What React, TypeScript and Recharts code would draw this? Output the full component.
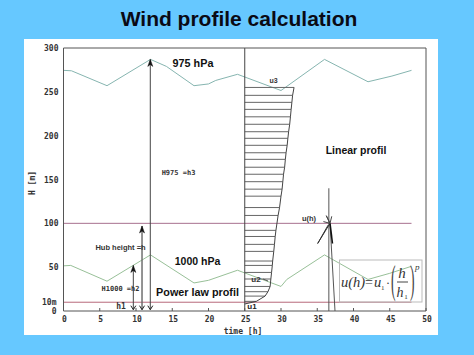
import { ComposedChart, Line, XAxis, YAxis } from 'recharts';

const hours975 = [0, 1.1, 6, 12, 14.2, 18, 20, 21, 24, 30, 36, 42, 45.3, 48];
const heights975 = [274.5, 274, 257, 287, 279, 257, 259, 263, 270, 251.5, 287, 261.5, 268, 274.5];
const hours1000 = [0, 1, 6, 12, 18, 20, 24, 30, 30.8, 36, 42, 45, 48];
const heights1000 = [51.5, 52, 34, 64, 32, 35, 46.5, 28, 36, 64, 36, 43, 51];

const hatchHeights = [255, 246, 238, 230, 221.5, 213, 204.5, 197, 189, 180.5, 173, 164, 156, 147.5, 139, 131, 118, 109, 92, 85, 76, 68, 57, 52, 44, 36.5, 28, 22, 17, 11];
const hatchEnds = [31.8, 31.6, 31.5, 31.4, 31.3, 31.2, 31.05, 30.95, 30.85, 30.7, 30.6, 30.5, 30.35, 30.25, 30.15, 30, 29.8, 29.6, 29.3, 29.2, 29.1, 29, 28.85, 28.8, 28.7, 28.6, 28.5, 28.2, 27.8, 26.6];

const arrowHours = [11.97, 10.83, 9.63];
const arrowTops = [287, 97, 52];

const xTicks = [0, 5, 10, 15, 20, 25, 30, 35, 40, 45, 50];
const yTicks = [0, 10, 50, 100, 150, 200, 250, 300];
const yTickLabels = ['0', '10m', '50', '100', '150', '200', '250', '300'];
const rightTicks = [50, 100, 150, 200, 250];

const towerHours = [36.6, 36.6];
const towerHeights = [0, 140];
const mastHours = [37.45, 36.76];
const mastHeights = [0, 100];
const bladeLeftHours = [36.76, 35.06, 36.5];
const bladeLeftHeights = [100, 77, 98];
const bladeDarkHours = [36.76, 37.1];
const bladeDarkHeights = [100, 77];
const hubHours = [35.85, 36.76, 36.25, 36.76, 37];
const hubHeights = [102, 100, 108.7, 100, 108];

const pairs = (xs: number[], ys: number[]) => xs.map((x, i) => ({ x, y: ys[i] }));

const axisColor = '#555';
const monoFont = '"DejaVu Sans Mono", monospace';
const sansFont = '"Liberation Sans", Arial, sans-serif';
const serifFont = '"Liberation Serif", serif';

const BottomTick = ({ x, y, payload }: any) => (
  <g>
    <line x1={x} x2={x} y1={y} y2={y - 3} stroke={axisColor} />
    <text x={x + 1} y={y + 11} textAnchor="middle" fontFamily={monoFont} fontWeight="bold" fontSize={8} fill="#333">{payload.value}</text>
  </g>
);
const TopTick = ({ x, y }: any) => <line x1={x} x2={x} y1={y} y2={y + 3} stroke={axisColor} />;
const LeftTick = ({ x, y, payload }: any) => {
  const idx = yTicks.indexOf(payload.value);
  const right = payload.value === 10 || payload.value === 0 ? x - 7 : x - 5;
  return (
    <text x={right} y={y + 3} textAnchor="end" fontFamily={monoFont} fontWeight="bold" fontSize={8} fill="#333">{yTickLabels[idx]}</text>
  );
};
const RightTick = ({ x, y }: any) => <line x1={x} x2={x - 4} y1={y} y2={y} stroke={axisColor} />;

const arrowDot = ({ cx, cy, index }: any) =>
  index === 1 ? (
    <path key={index} d={`M${cx} ${cy} L${cx + 2.5} ${cy + 7} L${cx} ${cy + 5} L${cx - 2.5} ${cy + 7} Z`} fill="#111" stroke="#111" strokeWidth={0.5} />
  ) : (
    <path key={index} d={`M${cx - 2.5} ${cy - 4} L${cx} ${cy} L${cx + 2.5} ${cy - 4}`} fill="none" stroke="#222" strokeWidth={1} />
  );

const thin = (key: string, data: any[], color: string, width = 1) => (
  <Line key={key} data={data} dataKey="y" type="linear" stroke={color} strokeWidth={width} dot={false} isAnimationActive={false} />
);

export default function App() {
  return (
    <div style={{ position: 'absolute', left: 0, top: 0, width: 474, height: 355, background: '#66c8ff', overflow: 'hidden' }}>
      <div style={{ position: 'absolute', left: 24, top: 39, width: 414, height: 296, background: '#fff' }} />
      <div style={{ position: 'absolute', left: 0, top: 0 }}>
        <ComposedChart width={474} height={355} margin={{ top: 18, right: 18, bottom: 14, left: 3.5 }}>
          <XAxis dataKey="x" type="number" domain={[0, 50]} ticks={xTicks} interval={0} height={30} tickSize={0} tickMargin={0} tickLine={false} axisLine={{ stroke: axisColor }} tick={BottomTick} />
          <XAxis xAxisId="top" orientation="top" type="number" domain={[0, 50]} ticks={xTicks} interval={0} height={30} tickSize={0} tickMargin={0} tickLine={false} axisLine={{ stroke: axisColor }} tick={TopTick} />
          <YAxis type="number" domain={[0, 300]} ticks={yTicks} interval={0} width={60} tickSize={0} tickMargin={0} tickLine={false} axisLine={{ stroke: axisColor }} tick={LeftTick} />
          <YAxis yAxisId="right" orientation="right" type="number" domain={[0, 300]} ticks={rightTicks} interval={0} width={30} tickSize={0} tickMargin={0} tickLine={false} axisLine={{ stroke: axisColor }} tick={RightTick} />

          {thin('h100', pairs([0, 48], [100, 100]), '#a8708f')}
          {thin('h10', pairs([0, 48], [10, 10]), '#b8687a')}
          {thin('g975', pairs(hours975, heights975), '#86b5b0')}
          {thin('g1000', pairs(hours1000, heights1000), '#98c098')}

          {hatchHeights.map((h, i) => thin(`hatch${i}`, pairs([25, hatchEnds[i]], [h, h]), '#666'))}
          {thin('curve', pairs([...hatchEnds, 25], [...hatchHeights, 8]), '#444')}
          {thin('axis25', pairs([25, 25], [0, 300]), '#444')}

          {arrowHours.map((x, i) => (
            <Line key={`arrow${i}`} data={pairs([x, x], [1.5, arrowTops[i]])} dataKey="y" type="linear" stroke={i === 1 ? '#666' : '#444'} strokeWidth={i === 1 ? 1.4 : 1} dot={arrowDot} isAnimationActive={false} />
          ))}

          {thin('tower', pairs(towerHours, towerHeights), '#555')}
          {thin('mast', pairs(mastHours, mastHeights), '#555')}
          {thin('bladeLeft', pairs(bladeLeftHours, bladeLeftHeights), '#333')}
          {thin('bladeDark', pairs(bladeDarkHours, bladeDarkHeights), '#111', 1.6)}
          {thin('hub', pairs(hubHours, hubHeights), '#444')}
        </ComposedChart>
      </div>
      <svg width={474} height={355} style={{ position: 'absolute', left: 0, top: 0 }}>
        <text x={239} y={26} textAnchor="middle" fontFamily={sansFont} fontWeight="bold" fontSize={21} fill="#0a0a14">Wind profile calculation</text>

        <text x={193} y={67} textAnchor="middle" fontFamily={sansFont} fontWeight="bold" fontSize={10.8} fill="#111">975 hPa</text>
        <text x={197.5} y={265} textAnchor="middle" fontFamily={sansFont} fontWeight="bold" fontSize={10.5} fill="#111">1000 hPa</text>
        <text x={197.5} y={296} textAnchor="middle" fontFamily={sansFont} fontWeight="bold" fontSize={10.8} fill="#111">Power law profil</text>
        <text x={356} y={154} textAnchor="middle" fontFamily={sansFont} fontWeight="bold" fontSize={10.5} fill="#111">Linear profil</text>

        <text x={178.5} y={175} textAnchor="middle" fontFamily={monoFont} fontWeight="bold" fontSize={7} fill="#333">H975 =h3</text>
        <text x={120.5} y={250} textAnchor="middle" fontFamily={sansFont} fontWeight="bold" fontSize={7.5} fill="#333">Hub height  =h</text>
        <text x={120.5} y={291} textAnchor="middle" fontFamily={monoFont} fontWeight="bold" fontSize={7} fill="#333">H1000 =h2</text>
        <text x={121} y={309} textAnchor="middle" fontFamily={monoFont} fontWeight="bold" fontSize={8} fill="#333">h1</text>

        <text x={273.5} y={83} textAnchor="middle" fontFamily={sansFont} fontWeight="bold" fontSize={7} fill="#333">u3</text>
        <text x={256} y={282} textAnchor="middle" fontFamily={sansFont} fontWeight="bold" fontSize={8} fill="#333">u2</text>
        <text x={252} y={309} textAnchor="middle" fontFamily={sansFont} fontWeight="bold" fontSize={8} fill="#222">u1</text>
        <text x={309} y={221} textAnchor="middle" fontFamily={sansFont} fontWeight="bold" fontSize={7.5} fill="#333">u(h)</text>
        <line x1={263} y1={279} x2={268} y2={281} stroke="#555" />

        <text x={243} y={334} textAnchor="middle" fontFamily={monoFont} fontWeight="bold" fontSize={8} fill="#333">time [h]</text>
        <text transform="translate(35,183) rotate(-90)" textAnchor="middle" fontFamily={monoFont} fontWeight="bold" fontSize={8} fill="#333">H [m]</text>

        <rect x={339.5} y={260} width={82.5} height={42} fill="none" stroke="#bbb" />
        <text x={341} y={287} fontFamily={serifFont} fontStyle="italic" fontSize={14.5} fill="#333">u(h)</text>
        <text x={365} y={287} fontFamily={serifFont} fontSize={14} fill="#333">=</text>
        <text x={374} y={287} fontFamily={serifFont} fontStyle="italic" fontSize={14.5} fill="#333">u</text>
        <text x={381} y={290} fontFamily={serifFont} fontSize={7} fill="#333">1</text>
        <text x={386} y={287} fontFamily={serifFont} fontSize={12} fill="#333">·</text>
        <text x={0} y={0} transform="translate(391,293) scale(0.8,2.3)" fontFamily={serifFont} fontSize={17} fill="#444">(</text>
        <text x={0} y={0} transform="translate(410,293) scale(0.8,2.3)" fontFamily={serifFont} fontSize={17} fill="#444">)</text>
        <text x={402} y={278} textAnchor="middle" fontFamily={serifFont} fontStyle="italic" fontSize={15} fill="#333">h</text>
        <line x1={397} x2={408} y1={282} y2={282} stroke="#444" />
        <text x={400} y={297} textAnchor="middle" fontFamily={serifFont} fontStyle="italic" fontSize={14} fill="#333">h</text>
        <text x={406} y={299} textAnchor="middle" fontFamily={serifFont} fontSize={7} fill="#333">1</text>
        <text x={415} y={270} fontFamily={serifFont} fontStyle="italic" fontSize={9} fill="#333">p</text>
      </svg>
    </div>
  );
}
